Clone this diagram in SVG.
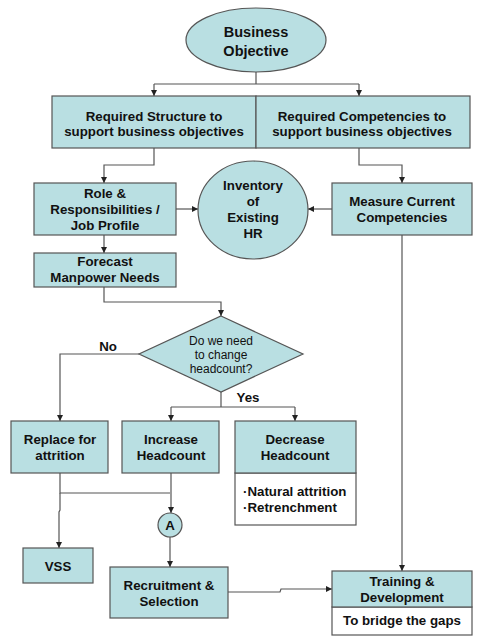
<svg xmlns="http://www.w3.org/2000/svg" width="481" height="640" viewBox="0 0 481 640">
<defs>
<marker id="ah" viewBox="0 0 8 8" refX="8" refY="4" markerWidth="6" markerHeight="6" orient="auto" markerUnits="userSpaceOnUse">
<path d="M0,0 L8,4 L0,8 z" fill="#222"/>
</marker>
<style>
.n{fill:#b9dfe2;stroke:#555;stroke-width:1.2}
.w{fill:#fff;stroke:#555;stroke-width:1.2}
.c{fill:none;stroke:#555;stroke-width:1.2}
text{font-family:"Liberation Sans",Arial,sans-serif;fill:#111;text-anchor:middle}
.b{font-size:13.3px;font-weight:bold}
.t{font-size:14.5px;font-weight:bold}
.d{font-size:12px}
.l{text-anchor:start}
</style>
</defs>
<rect width="481" height="640" fill="#fff"/>
<g id="connectors">
<path class="c" d="M256,72 V84 M154,84 H359"/>
<path class="c" d="M154,84 V96" marker-end="url(#ah)"/>
<path class="c" d="M359,84 V96" marker-end="url(#ah)"/>
<path class="c" d="M154,148 V165 H104 V183" marker-end="url(#ah)"/>
<path class="c" d="M359,148 V165 H402 V183" marker-end="url(#ah)"/>
<path class="c" d="M176,209 H198" marker-end="url(#ah)"/>
<path class="c" d="M332,209 H308" marker-end="url(#ah)"/>
<path class="c" d="M104,235 V253" marker-end="url(#ah)"/>
<path class="c" d="M104,287 V302 H221 V316" marker-end="url(#ah)"/>
<path class="c" d="M402,235 V571" marker-end="url(#ah)"/>
<path class="c" d="M139,354 H60 V421" marker-end="url(#ah)"/>
<path class="c" d="M221,392 V407 M171,407 H295"/>
<path class="c" d="M171,407 V421" marker-end="url(#ah)"/>
<path class="c" d="M295,407 V421" marker-end="url(#ah)"/>
<path class="c" d="M60,473 V493 H170"/>
<path class="c" d="M171,473 V513" marker-end="url(#ah)"/>
<path class="c" d="M60,493 V510 L59,512 V548" marker-end="url(#ah)"/>
<path class="c" d="M170,537 V567" marker-end="url(#ah)"/>
<path class="c" d="M228,592 H280 L281,589 H332" marker-end="url(#ah)"/>
<text class="b" x="108" y="351">No</text>
<text class="b" x="248" y="402">Yes</text>
</g>
<g id="business-objective">
<ellipse class="n" cx="256" cy="40" rx="70" ry="32"/>
<text class="t" x="256" y="37">Business</text>
<text class="t" x="256" y="56">Objective</text>
</g>
<g id="required-structure">
<rect class="n" x="52" y="96" width="204" height="52"/>
<text class="b" x="154" y="121">Required Structure to</text>
<text class="b" x="154" y="136">support business objectives</text>
</g>
<g id="required-competencies">
<rect class="n" x="256" y="96" width="214" height="52"/>
<text class="b" x="362" y="121">Required Competencies to</text>
<text class="b" x="362" y="136">support business objectives</text>
</g>
<g id="role">
<rect class="n" x="34" y="183" width="142" height="52"/>
<text class="b" x="105" y="198">Role &amp;</text>
<text class="b" x="105" y="214">Responsibilities /</text>
<text class="b" x="105" y="230">Job Profile</text>
</g>
<g id="inventory">
<ellipse class="n" cx="253" cy="210" rx="55" ry="49"/>
<text class="b" x="253" y="190">Inventory</text>
<text class="b" x="253" y="206">of</text>
<text class="b" x="253" y="222">Existing</text>
<text class="b" x="253" y="238">HR</text>
</g>
<g id="measure">
<rect class="n" x="332" y="183" width="140" height="52"/>
<text class="b" x="402" y="206">Measure Current</text>
<text class="b" x="402" y="222">Competencies</text>
</g>
<g id="forecast">
<rect class="n" x="34" y="253" width="142" height="34"/>
<text class="b" x="105" y="266">Forecast</text>
<text class="b" x="105" y="282">Manpower Needs</text>
</g>
<g id="decision">
<polygon class="n" points="221,316 303,354 221,392 139,354"/>
<text class="d" x="221" y="345">Do we need</text>
<text class="d" x="221" y="359">to change</text>
<text class="d" x="221" y="373">headcount?</text>
</g>
<g id="replace">
<rect class="n" x="11" y="421" width="97" height="52"/>
<text class="b" x="60" y="444">Replace for</text>
<text class="b" x="60" y="460">attrition</text>
</g>
<g id="increase">
<rect class="n" x="122" y="421" width="97" height="52"/>
<text class="b" x="171" y="444">Increase</text>
<text class="b" x="171" y="460">Headcount</text>
</g>
<g id="decrease">
<rect class="w" x="235" y="473" width="121" height="52"/>
<rect class="n" x="235" y="421" width="121" height="52"/>
<text class="b" x="295" y="444">Decrease</text>
<text class="b" x="295" y="460">Headcount</text>
<text class="b l" x="243" y="496">·Natural attrition</text>
<text class="b l" x="243" y="512">·Retrenchment</text>
</g>
<g id="connector-a">
<circle class="n" cx="170" cy="525" r="12"/>
<text class="b" x="170" y="530">A</text>
</g>
<g id="vss">
<rect class="n" x="23" y="548" width="70" height="35"/>
<text class="b" x="58" y="571">VSS</text>
</g>
<g id="recruitment">
<rect class="n" x="110" y="567" width="118" height="51"/>
<text class="b" x="169" y="590">Recruitment &amp;</text>
<text class="b" x="169" y="606">Selection</text>
</g>
<g id="training">
<rect class="w" x="332" y="607" width="140" height="28"/>
<rect class="n" x="332" y="571" width="140" height="36"/>
<text class="b" x="402" y="586">Training &amp;</text>
<text class="b" x="402" y="602">Development</text>
<text class="b" x="402" y="625">To bridge the gaps</text>
</g>
</svg>
